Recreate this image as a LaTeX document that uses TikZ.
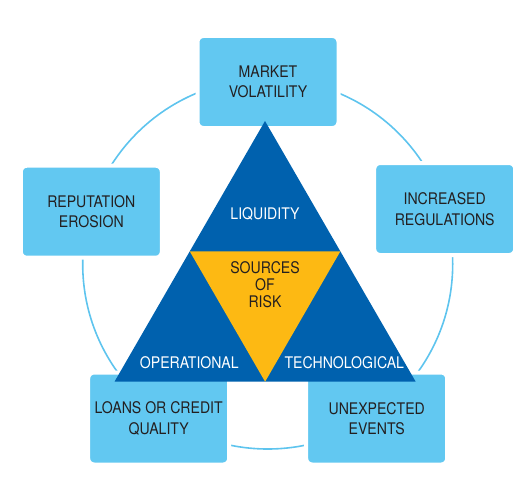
\documentclass[tikz,border=0pt]{standalone}
\usepackage{fontspec}
\setmainfont{TeX Gyre Heros}[FakeStretch=0.88]
\usetikzlibrary{calc}
\definecolor{boxblue}{HTML}{62C8F1}
\definecolor{ringblue}{HTML}{5EC4EE}
\definecolor{deepblue}{HTML}{0061AE}
\definecolor{riskyellow}{HTML}{FDB913}
\definecolor{inkgray}{HTML}{231F20}

\begin{document}
\begin{tikzpicture}[x=1pt,y=-1pt,
  riskbox/.style={rectangle, rounded corners=6pt, fill=boxblue, draw=white,
    line width=4pt, minimum width=141pt, minimum height=92pt, align=center,
    text=inkgray, font=\fontsize{16}{20.5}\selectfont},
  whitelabel/.style={anchor=base, text=white, font=\fontsize{16}{18}\selectfont}]
\useasboundingbox (0,0) rectangle (529,476);
%ring
\draw[ringblue, line width=1.6pt] (267.7,264) circle (185);
%outer boxes
\node[riskbox] (market) at (268,82) {MARKET\\VOLATILITY};
\node[riskbox] (reputation) at (91.3,211.7) {REPUTATION\\EROSION};
\node[riskbox] (regulations) at (444.7,209) {INCREASED\\REGULATIONS};
\node[riskbox] (loans) at (158.7,418.5) {LOANS OR CREDIT\\QUALITY};
\node[riskbox] (events) at (376.7,418.5) {UNEXPECTED\\EVENTS};
%triangle
\coordinate (apex) at (265,121);
\coordinate (left) at (114.5,381.7);
\coordinate (right) at (415.7,381.7);
\fill[deepblue] (apex) -- (left) -- (right) -- cycle;
\fill[riskyellow] ($(apex)!0.5!(left)$) -- ($(apex)!0.5!(right)$)
  -- ($(left)!0.5!(right)$) -- cycle;
%labels
\node[whitelabel] (liquidity) at (265,219) {LIQUIDITY};
\node[whitelabel] (operational) at (189.3,368.3) {OPERATIONAL};
\node[whitelabel] (technological) at (344.3,368.3) {TECHNOLOGICAL};
\node[align=center, text=inkgray, font=\fontsize{16}{17.3}\selectfont]
  (sources) at (265,284.5) {SOURCES\\OF\\RISK};
\end{tikzpicture}
\end{document}
